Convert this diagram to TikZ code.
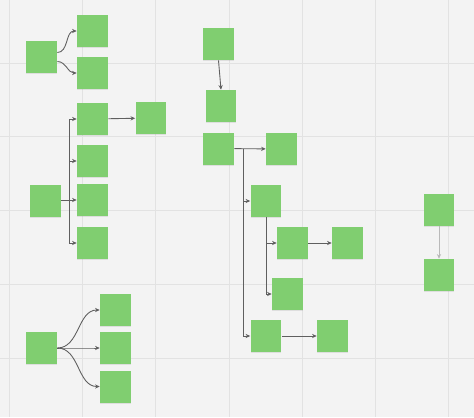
\documentclass[tikz,border=0pt]{standalone}
\usetikzlibrary{arrows.meta,shadows}
\definecolor{notegreen}{RGB}{128,206,112}
\definecolor{board}{RGB}{243,243,243}
\definecolor{gridline}{RGB}{226,226,226}
\definecolor{linkgray}{RGB}{95,95,95}
\begin{document}
\begin{tikzpicture}[x=0.02cm,y=-0.02cm,
      >={Stealth[length=2.6pt,width=2.4pt]},
      note/.style={rectangle,fill=notegreen,inner sep=0pt,
        minimum width=0.62cm,minimum height=0.64cm,
        drop shadow={shadow xshift=0pt,shadow yshift=-0.6pt,opacity=0.18}},
      link/.style={linkgray,line width=0.5pt,->}]
      \fill[board](0,0)rectangle(474,417);
      \useasboundingbox(0,0)rectangle(474,417);
      \foreach \i in {0,...,6}
        \draw[gridline,line width=0.4pt](9+73.3*\i,0)--(9+73.3*\i,417);
      \foreach \j in {-1,0,...,4}
        \draw[gridline,line width=0.4pt](0,63+73.8*\j)--(474,63+73.8*\j);
      \node[note](a)at(41.5,56.5){};
      \node[note](b1)at(92.5,31){};
      \node[note](b2)at(92.5,73){};
      \node[note](e)at(45.5,200.5){};
      \node[note](c1)at(92.5,119){};
      \node[note](c2)at(92.5,161){};
      \node[note](c3)at(92.5,200){};
      \node[note](c4)at(92.5,243){};
      \node[note](d)at(151,118){};
      \node[note](f)at(218.5,44){};
      \node[note](g)at(221,106){};
      \node[note](h)at(218.5,148.5){};
      \node[note](i)at(281.5,149){};
      \node[note](j)at(266,201){};
      \node[note](k)at(292.5,243){};
      \node[note](l)at(347.5,243){};
      \node[note](m)at(287.5,294){};
      \node[note](n)at(266,336){};
      \node[note](o)at(332.5,336){};
      \node[note](p)at(439,209.5){};
      \node[note](q)at(439,275){};
      \node[note](r)at(41.5,348){};
      \node[note](s1)at(115.5,310){};
      \node[note](s2)at(115.5,348){};
      \node[note](s3)at(115.5,386.5){};
      \draw[link]([yshift=0.08cm]a.east)to[out=0,in=180](b1.west);
      \draw[link]([yshift=-0.1cm]a.east)to[out=0,in=180](b2.west);
      \coordinate(ebus)at(69,200.5);
      \draw[linkgray,line width=0.5pt](e.east)--(ebus);
      \foreach \c in {c1,c2,c3,c4}
        \draw[link](ebus)|-(\c.west);
      \draw[link](c1)--(d);
      \draw[link](f.south)--(g.north);
      \draw[link](h)--(i);
      \coordinate(hbus)at(243,148.5);
      \draw[link](hbus)|-(j.west);
      \draw[link](hbus)|-(n.west);
      \draw[link](j.south)|-(k.west);
      \draw[link](j.south)|-(m.west);
      \draw[link](k)--(l);
      \draw[link](n)--(o);
      \draw[link,draw=gray!55](p)--(q);
      \foreach \s in {s1,s2,s3}
        \draw[link](r.east)to[out=0,in=180](\s.west);
    \end{tikzpicture}
\end{document}
